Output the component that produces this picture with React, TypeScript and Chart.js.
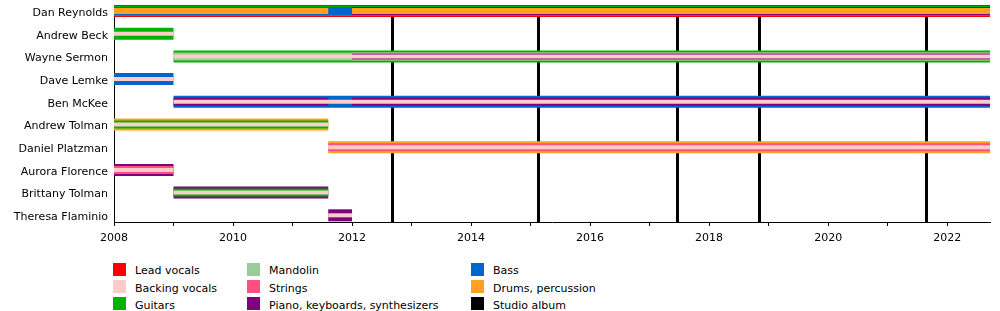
import { useEffect, useRef } from "react";
import { Chart, registerables } from "chart.js";

Chart.register(...registerables);

// Band members, top to bottom
const members = [
  "Dan Reynolds",
  "Andrew Beck",
  "Wayne Sermon",
  "Dave Lemke",
  "Ben McKee",
  "Andrew Tolman",
  "Daniel Platzman",
  "Aurora Florence",
  "Brittany Tolman",
  "Theresa Flaminio",
];

// Roles shown in the legend
const roles = [
  "Lead vocals",
  "Backing vocals",
  "Guitars",
  "Mandolin",
  "Strings",
  "Piano, keyboards, synthesizers",
  "Bass",
  "Drums, percussion",
];

const roleColors: Record<string, string> = {
  "Lead vocals": "#ff0000",
  "Backing vocals": "#ffcccc",
  Guitars: "#00b300",
  Mandolin: "#99cc99",
  Strings: "#ff4f80",
  "Piano, keyboards, synthesizers": "#800080",
  Bass: "#0066cc",
  "Drums, percussion": "#ffa020",
};

const albumLabel = "Studio album";
const albumReleases = [2012.67, 2015.12, 2017.46, 2018.84, 2021.65];

const yearTicks = [2008, 2009, 2010, 2011, 2012, 2013, 2014, 2015, 2016, 2017, 2018, 2019, 2020, 2021, 2022];
const timelineStart = 2008;
const timelineEnd = 2022.72;

// Membership stints: [member index, role, from, till, nesting level (0 = outermost)]
const stints: [number, string, number, number, number][] = [
  [0, "Lead vocals", 2008, timelineEnd, 0],
  [0, "Guitars", 2008, timelineEnd, 1],
  [0, "Bass", 2008, 2012, 2],
  [0, "Piano, keyboards, synthesizers", 2012, timelineEnd, 2],
  [0, "Drums, percussion", 2008, 2011.6, 3],
  [0, "Drums, percussion", 2012, timelineEnd, 3],

  [1, "Guitars", 2008, 2009, 0],
  [1, "Backing vocals", 2008, 2009, 4],

  [2, "Guitars", 2009, timelineEnd, 0],
  [2, "Mandolin", 2009, 2012, 2],
  [2, "Backing vocals", 2012, timelineEnd, 2],
  [2, "Piano, keyboards, synthesizers", 2012, timelineEnd, 3],
  [2, "Backing vocals", 2009, timelineEnd, 4],

  [3, "Bass", 2008, 2009, 0],
  [3, "Backing vocals", 2008, 2009, 4],

  [4, "Bass", 2009, timelineEnd, 0],
  [4, "Piano, keyboards, synthesizers", 2009, 2011.6, 2],
  [4, "Piano, keyboards, synthesizers", 2012, timelineEnd, 2],
  [4, "Backing vocals", 2009, timelineEnd, 4],

  [5, "Drums, percussion", 2008, 2011.6, 0],
  [5, "Guitars", 2008, 2011.6, 2],
  [5, "Backing vocals", 2008, 2011.6, 4],

  [6, "Drums, percussion", 2011.6, timelineEnd, 0],
  [6, "Strings", 2011.6, timelineEnd, 2],
  [6, "Backing vocals", 2011.6, timelineEnd, 4],

  [7, "Piano, keyboards, synthesizers", 2008, 2009, 0],
  [7, "Strings", 2008, 2009, 2],
  [7, "Backing vocals", 2008, 2009, 4],

  [8, "Piano, keyboards, synthesizers", 2009, 2011.6, 0],
  [8, "Guitars", 2009, 2011.6, 2],
  [8, "Backing vocals", 2009, 2011.6, 4],

  [9, "Piano, keyboards, synthesizers", 2011.6, 2012, 0],
  [9, "Backing vocals", 2011.6, 2012, 4],
];

const FONT = "'DejaVu Sans', sans-serif";

// Thickness of a stripe for each nesting level
const levelThickness = [12, 10, 8, 6, 4];

const albumLines = {
  id: "albumLines",
  beforeDatasetsDraw(chart: any) {
    const { ctx, chartArea, scales } = chart;
    ctx.save();
    ctx.fillStyle = "#000";
    for (const d of albumReleases) {
      const x = Math.round(scales.x.getPixelForValue(d));
      ctx.fillRect(x - 1, chartArea.top, 3, chartArea.bottom - chartArea.top);
    }
    ctx.restore();
  },
};

function TimelineChart() {
  const canvasRef = useRef<HTMLCanvasElement | null>(null);

  useEffect(() => {
    const canvas = canvasRef.current;
    if (!canvas) return;

    const datasets = stints.map(([m, role, from, till, level]) => ({
      label: role,
      data: [{ x: [from, till], y: m }],
      backgroundColor: roleColors[role],
      borderWidth: 0,
      borderSkipped: false,
      inflateAmount: 0,
      barThickness: levelThickness[level],
      maxBarThickness: levelThickness[level],
      grouped: false,
      clip: 2,
      order: 10 - level,
    }));

    const chart = new Chart(canvas, {
      type: "bar",
      data: { datasets: datasets as any },
      plugins: [albumLines],
      options: {
        indexAxis: "y",
        responsive: false,
        animation: false,
        events: [],
        layout: { padding: { top: 5, right: 10, left: 0, bottom: 0 } },
        plugins: {
          legend: { display: false },
          tooltip: { enabled: false },
        },
        scales: {
          x: {
            type: "linear",
            min: timelineStart,
            max: timelineEnd,
            afterBuildTicks: (scale: any) => {
              scale.ticks = yearTicks.map((v) => ({ value: v }));
            },
            afterFit: (scale: any) => {
              scale.height = 28;
              scale.paddingLeft = 0;
              scale.paddingRight = 0;
            },
            ticks: {
              autoSkip: false,
              maxRotation: 0,
              padding: 6,
              color: "#000",
              font: { family: FONT, size: 11 },
              callback: (v: any) => (Number(v) % 2 === 0 ? String(v) : ""),
            },
            grid: {
              drawOnChartArea: false,
              drawTicks: true,
              tickLength: 4,
              tickColor: "#000",
              tickWidth: 1,
            },
            border: { color: "#000", width: 1 },
          },
          y: {
            type: "linear",
            reverse: true,
            offset: false,
            min: -0.2643,
            max: 9.295,
            afterBuildTicks: (scale: any) => {
              scale.ticks = members.map((_, i) => ({ value: i }));
            },
            afterFit: (scale: any) => {
              scale.width = 114;
              scale.paddingTop = 0;
              scale.paddingBottom = 0;
            },
            ticks: {
              autoSkip: false,
              padding: 6,
              labelOffset: 2,
              color: "#000",
              font: { family: FONT, size: 11 },
              callback: (v: any) => members[Number(v)] ?? "",
            },
            grid: { drawOnChartArea: false, drawTicks: false, offset: false },
            border: { color: "#000", width: 1 },
          },
        },
      },
    });

    return () => chart.destroy();
  }, []);

  return (
    <canvas
      ref={canvasRef}
      width={1000}
      height={250}
      style={{ position: "absolute", left: 0, top: 0, width: 1000, height: 250 }}
    />
  );
}

const legendColumns = [
  ["Lead vocals", "Backing vocals", "Guitars"],
  ["Mandolin", "Strings", "Piano, keyboards, synthesizers"],
  ["Bass", "Drums, percussion", albumLabel],
];
const legendColumnX = [113, 247, 471];
const legendRowY = [263, 280, 297];

export default function App() {
  return (
    <div
      style={{
        position: "absolute",
        left: 0,
        top: 0,
        width: 1000,
        height: 311,
        background: "#fff",
        overflow: "hidden",
        fontFamily: FONT,
      }}
    >
      <TimelineChart />
      {legendColumns.map((col, ci) =>
        col.map((label, ri) => (
          <div
            key={label}
            style={{
              position: "absolute",
              left: legendColumnX[ci],
              top: legendRowY[ri],
              height: 13,
              display: "flex",
              alignItems: "center",
              whiteSpace: "nowrap",
              fontSize: 11,
              color: "#000",
            }}
          >
            <span
              style={{
                display: "inline-block",
                width: 13,
                height: 13,
                background: label === albumLabel ? "#000" : roleColors[label],
                marginRight: 9,
              }}
            />
            <span style={{ position: "relative", top: 1 + ri * 0.5 }}>{label}</span>
          </div>
        ))
      )}
    </div>
  );
}
